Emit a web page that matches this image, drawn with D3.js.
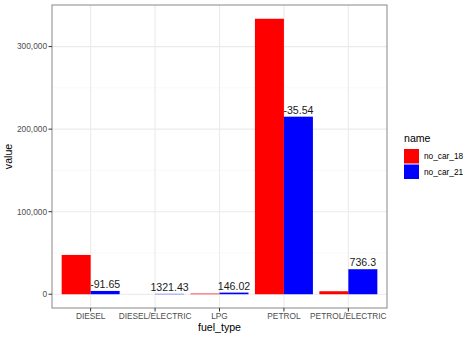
<!DOCTYPE html>
<html><head><meta charset="utf-8">
<script src="https://cdn.jsdelivr.net/npm/d3@7"></script>
<style>body{margin:0;background:#fff}</style>
</head><body>
<svg id="c" width="474" height="338"></svg>
<script>
const categories = ["DIESEL","DIESEL/ELECTRIC","LPG","PETROL","PETROL/ELECTRIC"];
const seriesNames = ["no_car_18","no_car_21"];
const no_car_18 = [47600, 30, 800, 333700, 3620];
const no_car_21 = [3970, 426, 1970, 215100, 30300];
const changeLabels = ["-91.65","1321.43","146.02","-35.54","736.3"];
const yTicks = [0,100000,200000,300000];
const yMinor = [50000,150000,250000];
const colors = {"no_car_18":"#FF0000","no_car_21":"#0000FF"};

const svg = d3.select("#c");
const L=52, R=387, T=5, B=308;
const font = "Liberation Sans, Arial, sans-serif";

const maxV = d3.max(no_car_18.concat(no_car_21));
const pad = maxV*0.05;
const y = d3.scaleLinear().domain([-pad, maxV+pad]).range([B,T]);
const x = d3.scaleLinear().domain([-0.6, categories.length-1+0.6]).range([L,R]);
const cx = i => x(i);
const bw = x(0.45)-x(0);

const g = svg.append("g");
g.append("rect").attr("x",L).attr("y",T).attr("width",R-L).attr("height",B-T).attr("fill","#fff");
yMinor.forEach(v=>g.append("line").attr("x1",L).attr("x2",R).attr("y1",y(v)).attr("y2",y(v)).attr("stroke","#F5F5F5").attr("stroke-width",0.6));
yTicks.forEach(v=>g.append("line").attr("x1",L).attr("x2",R).attr("y1",y(v)).attr("y2",y(v)).attr("stroke","#EBEBEB").attr("stroke-width",1.1));
categories.forEach((c,i)=>g.append("line").attr("x1",cx(i)).attr("x2",cx(i)).attr("y1",T).attr("y2",B).attr("stroke","#EBEBEB").attr("stroke-width",1.1));

const data = [];
categories.forEach((c,i)=>{
  data.push({i, s:"no_car_18", v:no_car_18[i], off:-1});
  data.push({i, s:"no_car_21", v:no_car_21[i], off:0});
});
g.selectAll("rect.bar").data(data).enter().append("rect")
  .attr("x",d=>cx(d.i)+d.off*bw)
  .attr("width",bw)
  .attr("y",d=>y(d.v))
  .attr("height",d=>Math.max(0,y(0)-y(d.v)))
  .attr("fill",d=>colors[d.s]);

g.selectAll("text.lab").data(categories).enter().append("text")
  .attr("x",(d,i)=>cx(i)+bw/2)
  .attr("y",(d,i)=>y(no_car_21[i])-3)
  .attr("text-anchor","middle")
  .attr("font-family",font).attr("font-size",10.6).attr("fill","#1a1a1a")
  .text((d,i)=>changeLabels[i]);

g.append("rect").attr("x",L).attr("y",T).attr("width",R-L).attr("height",B-T).attr("fill","none").attr("stroke","#333333").attr("stroke-width",1.07).attr("stroke-opacity",0.55);

// y axis
yTicks.forEach(v=>{
  g.append("line").attr("x1",L-3.5).attr("x2",L).attr("y1",y(v)).attr("y2",y(v)).attr("stroke","#333");
  g.append("text").attr("x",L-5).attr("y",y(v)).attr("dy","0.35em").attr("text-anchor","end")
    .attr("font-family",font).attr("font-size",8.3).attr("fill","#4D4D4D").text(d3.format(",")(v));
});
// x axis
categories.forEach((c,i)=>{
  g.append("line").attr("x1",cx(i)).attr("x2",cx(i)).attr("y1",B).attr("y2",B+3.5).attr("stroke","#333");
  g.append("text").attr("x",cx(i)).attr("y",B+10.5).attr("text-anchor","middle")
    .attr("font-family",font).attr("font-size",8.3).attr("fill","#4D4D4D").text(c);
});
g.append("text").attr("x",(L+R)/2).attr("y",B+22.5).attr("text-anchor","middle")
  .attr("font-family",font).attr("font-size",10.6).attr("fill","#000").text("fuel_type");
g.append("text").attr("transform",`translate(12,${(T+B)/2}) rotate(-90)`).attr("text-anchor","middle")
  .attr("font-family",font).attr("font-size",10.6).attr("fill","#000").text("value");

// legend
const lx=404, ly=142;
g.append("text").attr("x",lx).attr("y",ly).attr("font-family",font).attr("font-size",10.6).attr("fill","#000").text("name");
seriesNames.forEach((s,k)=>{
  g.append("rect").attr("x",lx).attr("y",ly+7+k*15.5).attr("width",15).attr("height",14.5).attr("fill",colors[s]);
  g.append("text").attr("x",lx+20).attr("y",ly+7+k*15.5+7.25).attr("dy","0.35em")
    .attr("font-family",font).attr("font-size",8.3).attr("fill","#000").text(s);
});
</script>
</body></html>
